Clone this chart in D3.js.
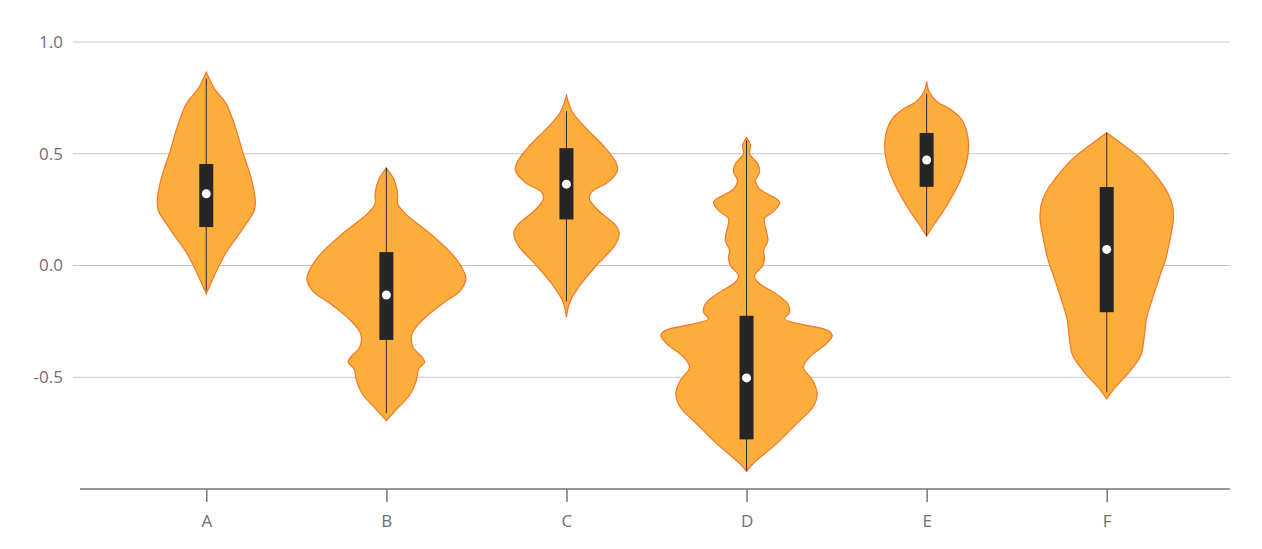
<!DOCTYPE html>
<html>
<head>
<meta charset="utf-8">
<script src="https://cdn.jsdelivr.net/npm/d3@7"></script>
<style>
  html, body { margin: 0; padding: 0; background: #fff; }
  svg { display: block; font-family: "Open Sans", "Noto Sans", sans-serif; }
</style>
</head>
<body>
<svg id="chart" width="1262" height="549"></svg>
<script>
const categories = ["A", "B", "C", "D", "E", "F"];
const yTicks = [1.0, 0.5, 0.0, -0.5];

// density profiles: [value, density]
const densityA = [[0.866, 0], [0.80, 0.07], [0.769, 0.12], [0.724, 0.20], [0.62, 0.29], [0.5, 0.37], [0.395, 0.447], [0.291, 0.49], [0.246, 0.48], [0.2, 0.42], [0.127, 0.307], [0.052, 0.19], [-0.037, 0.09], [-0.127, 0]];
const densityB = [[0.437, 0], [0.381, 0.08], [0.321, 0.113], [0.276, 0.113], [0.232, 0.19], [0.142, 0.44], [0.052, 0.657], [-0.022, 0.77], [-0.06, 0.795], [-0.112, 0.74], [-0.172, 0.557], [-0.246, 0.357], [-0.306, 0.257], [-0.366, 0.267], [-0.41, 0.357], [-0.433, 0.383], [-0.463, 0.323], [-0.515, 0.30], [-0.575, 0.24], [-0.634, 0.123], [-0.694, 0]];
const densityC = [[0.761, 0], [0.687, 0.06], [0.612, 0.20], [0.537, 0.367], [0.463, 0.493], [0.425, 0.51], [0.373, 0.417], [0.328, 0.25], [0.299, 0.23], [0.254, 0.30], [0.179, 0.493], [0.142, 0.527], [0.09, 0.483], [0.0, 0.30], [-0.09, 0.133], [-0.164, 0.033], [-0.231, 0]];
const densityD = [[0.572, 0], [0.537, 0.04], [0.5, 0.03], [0.455, 0.113], [0.418, 0.13], [0.381, 0.09], [0.343, 0.13], [0.284, 0.33], [0.246, 0.28], [0.209, 0.18], [0.157, 0.197], [0.112, 0.213], [0.067, 0.17], [0.037, 0.18], [0.0, 0.163], [-0.045, 0.08], [-0.075, 0.113], [-0.127, 0.297], [-0.172, 0.413], [-0.209, 0.43], [-0.239, 0.38], [-0.261, 0.53], [-0.291, 0.813], [-0.313, 0.857], [-0.351, 0.797], [-0.41, 0.63], [-0.455, 0.57], [-0.515, 0.663], [-0.575, 0.707], [-0.634, 0.663], [-0.709, 0.497], [-0.798, 0.297], [-0.888, 0.063], [-0.921, 0]];
const densityE = [[0.824, 0], [0.776, 0.027], [0.731, 0.11], [0.702, 0.227], [0.657, 0.343], [0.597, 0.403], [0.537, 0.42], [0.463, 0.40], [0.388, 0.343], [0.313, 0.26], [0.239, 0.16], [0.179, 0.067], [0.131, 0]];
const densityF = [[0.594, 0], [0.537, 0.173], [0.478, 0.34], [0.403, 0.49], [0.328, 0.607], [0.269, 0.657], [0.209, 0.667], [0.134, 0.64], [0.03, 0.59], [-0.045, 0.533], [-0.149, 0.457], [-0.239, 0.397], [-0.328, 0.373], [-0.403, 0.34], [-0.478, 0.223], [-0.552, 0.073], [-0.597, 0]];
const densities = [densityA, densityB, densityC, densityD, densityE, densityF];

// box statistics
const whiskerLow = [-0.112, -0.661, -0.161, -0.918, 0.134, -0.567];
const q1 = [0.172, -0.333, 0.206, -0.778, 0.352, -0.209];
const medians = [0.321, -0.132, 0.364, -0.503, 0.472, 0.072];
const q3 = [0.454, 0.06, 0.525, -0.225, 0.593, 0.351];
const whiskerHigh = [0.836, 0.437, 0.69, 0.56, 0.769, 0.594];

const svg = d3.select("#chart");

const y = d3.scaleLinear().domain([-1, 1]).range([489, 42]);
const x = d3.scalePoint().domain(categories).range([82, 1231]).padding(0.69);
const w = d3.scaleLinear().domain([0, 1]).range([0, 100]);

// gridlines
svg.append("g")
  .selectAll("line")
  .data(yTicks)
  .join("line")
  .attr("x1", 73).attr("x2", 1230)
  .attr("y1", d => y(d)).attr("y2", d => y(d))
  .attr("stroke", "#c6c6c6")
  .attr("stroke-width", 1);

svg.append("g")
  .selectAll("text")
  .data(yTicks)
  .join("text")
  .attr("x", 63)
  .attr("y", d => y(d))
  .attr("dy", "0.35em")
  .attr("text-anchor", "end")
  .attr("font-size", 17)
  .attr("fill", "#707070")
  .text(d => d.toFixed(1));

// x axis
const xAxis = svg.append("g")
  .attr("transform", `translate(0,${y(-1)})`)
  .call(d3.axisBottom(x).tickSize(13).tickPadding(13));
xAxis.select(".domain").attr("d", "M80,0H1230").attr("stroke", "#777").attr("stroke-width", 1.5);
xAxis.selectAll(".tick line").attr("stroke", "#777").attr("stroke-width", 1.5);
xAxis.selectAll(".tick text")
  .attr("font-size", 17)
  .attr("fill", "#707070")
  .attr("font-family", "\"Open Sans\", \"Noto Sans\", sans-serif");

// violins
const violins = svg.append("g")
  .selectAll("g")
  .data(categories)
  .join("g");

violins.append("path")
  .attr("d", (c, i) => d3.area()
    .y(d => y(d[0]))
    .x0(d => x(c) - w(d[1]))
    .x1(d => x(c) + w(d[1]))
    .curve(d3.curveCatmullRom)(densities[i]))
  .attr("fill", "#fbae3c")
  .attr("stroke", "#f4782a")
  .attr("stroke-width", 1.2);

violins.append("line")
  .attr("x1", c => x(c)).attr("x2", c => x(c))
  .attr("y1", (c, i) => y(whiskerHigh[i]))
  .attr("y2", (c, i) => y(whiskerLow[i]))
  .attr("stroke", "#2a2a2a")
  .attr("stroke-width", 1);

violins.append("rect")
  .attr("x", c => x(c) - 7)
  .attr("width", 14)
  .attr("y", (c, i) => y(q3[i]))
  .attr("height", (c, i) => y(q1[i]) - y(q3[i]))
  .attr("fill", "#262626");

violins.append("circle")
  .attr("cx", c => x(c))
  .attr("cy", (c, i) => y(medians[i]))
  .attr("r", 4.5)
  .attr("fill", "#fff");
</script>
</body>
</html>
